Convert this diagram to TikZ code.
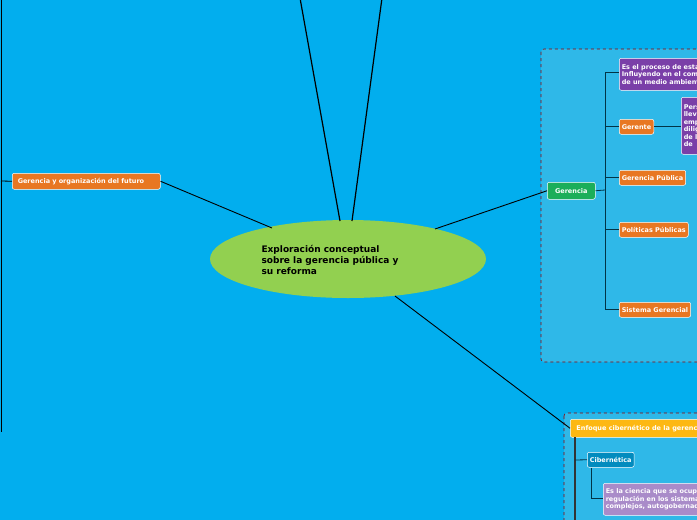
\documentclass[tikz,border=0pt]{standalone}
\usetikzlibrary{shapes.geometric}
\usepackage{fontspec}
\setmainfont{DejaVu Sans}
\definecolor{bg}{HTML}{02AEEE}
\definecolor{zone}{HTML}{2FB8E8}
\definecolor{orng}{HTML}{E87722}
\definecolor{purp}{HTML}{7A3FA8}
\definecolor{grn}{HTML}{1BAE5A}
\definecolor{yel}{HTML}{FDB813}
\definecolor{lgr}{HTML}{92D050}
\definecolor{lpur}{HTML}{A98BC9}
\begin{document}
\begin{tikzpicture}[x=1pt,y=-1pt,
  box/.style={rounded corners=2pt,draw=white,line width=0.5pt,font=\bfseries\fontsize{6.5}{7.5}\selectfont,text=white,inner sep=2.5pt,anchor=north west,align=left},
  link/.style={black,line width=1.2pt},
  tree/.style={black!70!bg,line width=0.8pt},
  zonebox/.style={fill=zone,draw=red!60!black,dashed,line width=0.6pt,rounded corners=3pt}]
\useasboundingbox (0,0) rectangle (697,520);
\fill[bg] (0,0) rectangle (697,520);
\begin{scope}
\clip (0,0) rectangle (697,520);
% zones
\draw[zonebox] (541,49) rectangle (720,362);
\draw[zonebox] (564,413) rectangle (720,540);
% central
\node[ellipse,fill=lgr,minimum width=276,minimum height=78,inner sep=0] (c) at (348,259) {};
\node[font=\bfseries\fontsize{9}{11}\selectfont,align=left,text=black,anchor=west] (ct) at (258,260) {Exploración conceptual\\sobre la gerencia pública y\\su reforma};
\coordinate (t1) at (300,-2); \coordinate (t2) at (382,-2);
\draw[link] (340,221) -- (t1);
\draw[link] (352,221) -- (t2);
% left
\draw[black,line width=0.8pt] (1,0) -- (1,432);
\node[box,fill=orng,minimum height=16,text width=143] (gf) at (12,173) {\hspace{3pt}Gerencia y organización del futuro};
\draw[black,line width=0.8pt] (1,181) -- (gf.west);
\draw[link,line width=0.9pt] (272,228) -- (gf.east);
% gerencia
\node[box,fill=grn,minimum width=48,minimum height=17] (g) at (547,182) {Gerencia};
\draw[link,line width=0.9pt] (435,229) -- (g.west);
\draw[tree] (g.east) -- (605,190);
\draw[tree] (605,72) -- (605,309);
\node[box,fill=purp,minimum height=32] (p1) at (619,58) {Es el proceso de establecer\\Influyendo en el comportamiento\\de un medio ambiente};
\node[box,fill=orng,minimum height=15] (ge) at (619,119) {Gerente};
\node[box,fill=purp,minimum height=57] (p2) at (681,97) {Persona\\lleva\\empresa\\diligente\\de la\\de};
\node[box,fill=orng,minimum height=15] (gp) at (619,170) {Gerencia Pública};
\node[box,fill=orng,minimum height=15] (pp) at (619,222) {Políticas Públicas};
\node[box,fill=orng,minimum height=15] (sg) at (619,302) {Sistema Gerencial};
\foreach \n/\y in {p1/72,ge/126,gp/177,pp/229,sg/309} \draw[tree] (605,\y) -- (\n.west |- 0,\y);
\draw[tree] (ge.east) -- (p2.west |- ge.east);
% bottom
\node[box,fill=yel,minimum width=140,minimum height=18] (en) at (570,419) {Enfoque cibernético de la gerencia};
\draw[link,line width=0.9pt] (395,296) -- (en.west);
\draw[black!80,line width=1.2pt] (575,437) -- (575,530);
\node[box,fill=bg!80!black,minimum height=15] (ci) at (587,452) {Cibernética};
\draw[tree] (575,460) -- (ci.west);
\node[box,fill=lpur,minimum height=32] (p3) at (603,483) {Es la ciencia que se ocupa\\regulación en los sistemas\\complejos, autogobernados};
\draw[tree] (591,468) -- (591,498) -- (p3.west |- 0,498);
\end{scope}
\end{tikzpicture}
\end{document}
